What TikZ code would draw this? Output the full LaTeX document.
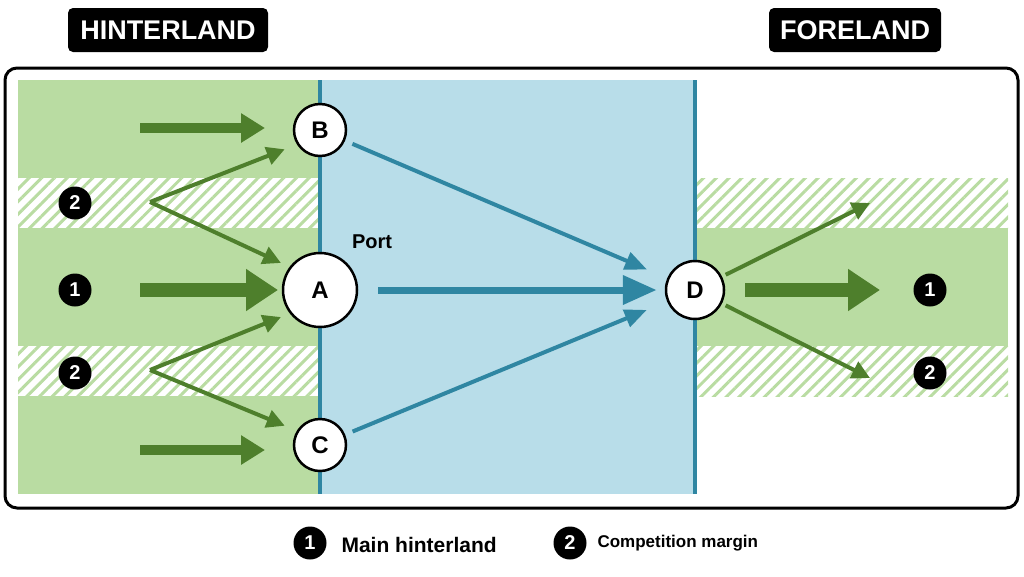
\documentclass[tikz,border=0pt]{standalone}
\usepackage{fontspec}
\setmainfont{Liberation Sans}
\usetikzlibrary{arrows.meta,patterns.meta}
\definecolor{lgreen}{HTML}{B9DCA2}
\definecolor{dgreen}{HTML}{4E7F2C}
\definecolor{lblue}{HTML}{B8DDE9}
\definecolor{dblue}{HTML}{2F86A2}
\tikzset{
  title/.style={fill=black,text=white,rounded corners=5pt,minimum width=200pt,minimum height=44pt,font=\bfseries\fontsize{27}{29}\selectfont},
  port/.style={circle,draw=black,line width=2.5pt,fill=white,font=\bfseries\fontsize{24}{26}\selectfont},
  num/.style={circle,fill=black,text=white,minimum size=33pt,inner sep=0pt,font=\bfseries\fontsize{20}{21}\selectfont},
  hatch/.style={pattern={Lines[angle=45,distance=9pt,line width=3pt]},pattern color=lgreen},
  thin/.style={draw=dgreen,line width=4pt,-{Triangle[length=18pt,width=18pt]}},
  fat/.style={draw=dgreen,line width=10pt,-{Triangle[length=24pt,width=28pt]}},
  huge/.style={draw=dgreen,line width=14pt,-{Triangle[length=32pt,width=40pt]}},
  bthin/.style={draw=dblue,line width=4pt,-{Triangle[length=22pt,width=18pt]}},
  bfat/.style={draw=dblue,line width=7pt,-{Triangle[length=34pt,width=28pt]}}
}
\begin{document}
\begin{tikzpicture}[x=1pt,y=-1pt]
  \useasboundingbox (0,0) rectangle (1024,576);
  % regions
  \fill[lgreen] (18,80) rectangle (320,494);
  \fill[white] (18,178) rectangle (320,228);
  \fill[white] (18,346) rectangle (320,396);
  \fill[hatch] (18,178) rectangle (320,228);
  \fill[hatch] (18,346) rectangle (320,396);
  \fill[lblue] (320,80) rectangle (695,494);
  \fill[lgreen] (695,228) rectangle (1008,346);
  \fill[hatch] (695,178) rectangle (1008,228);
  \fill[hatch] (695,346) rectangle (1008,396);
  \draw[dblue,line width=4pt] (320,80) -- (320,494);
  \draw[dblue,line width=4pt] (695,80) -- (695,494);
  \draw[line width=3pt,rounded corners=12pt] (5,68) rectangle (1018,508);
  % titles
  \node[title] (hint) at (168,30) {HINTERLAND};
  \node[title,minimum width=172pt] (fore) at (855,30) {FORELAND};
  % ports
  \node[port,minimum size=52pt] (B) at (320,130) {B};
  \node[port,minimum size=74pt] (A) at (320,290) {A};
  \node[port,minimum size=52pt] (C) at (320,445) {C};
  \node[port,minimum size=58pt] (D) at (695,290) {D};
  \node[font=\bfseries\fontsize{20}{22}\selectfont] (port) at (372,242) {Port};
  % numbers
  \node[num] (n2a) at (75,203) {2};
  \node[num] (n1a) at (75,290) {1};
  \node[num] (n2b) at (75,373) {2};
  \node[num] (n1r) at (930,290) {1};
  \node[num] (n2r) at (930,373) {2};
  % hinterland flows
  \coordinate (s1) at (140,128);
  \coordinate (s2) at (140,290);
  \coordinate (s3) at (140,450);
  \coordinate (f1) at (150,202);
  \coordinate (f2) at (150,370);
  \draw[fat] (s1) -- (265,128);
  \draw[huge] (s2) -- (278,290);
  \draw[fat] (s3) -- (265,450);
  \draw[thin] (f1) -- ([xshift=-16pt]B.south west);
  \draw[thin] (f1) -- ([xshift=-12pt]A.north west);
  \draw[thin] (f2) -- ([xshift=-12pt]A.south west);
  \draw[thin] (f2) -- ([xshift=-16pt]C.north west);
  % port to foreland
  \draw[bthin,shorten <=8pt,shorten >=22pt] (B) -- (D);
  \draw[bfat,shorten <=20pt,shorten >=8pt] (A) -- (D);
  \draw[bthin,shorten <=8pt,shorten >=22pt] (C) -- (D);
  % foreland flows
  \coordinate (e1) at (870,203);
  \coordinate (e2) at (880,290);
  \coordinate (e3) at (870,378);
  \draw[thin,shorten <=4pt] (D) -- (e1);
  \draw[huge,shorten <=20pt] (D) -- (e2);
  \draw[thin,shorten <=4pt] (D) -- (e3);
  % legend
  \node[num] (l1) at (310,543) {1};
  \node[anchor=west,font=\bfseries\fontsize{21}{23}\selectfont] (t1) at (338,545) {Main hinterland};
  \node[num] (l2) at (570,543) {2};
  \node[anchor=west,font=\bfseries\fontsize{17}{20}\selectfont] (t2) at (594,543) {Competition margin};
\end{tikzpicture}
\end{document}
